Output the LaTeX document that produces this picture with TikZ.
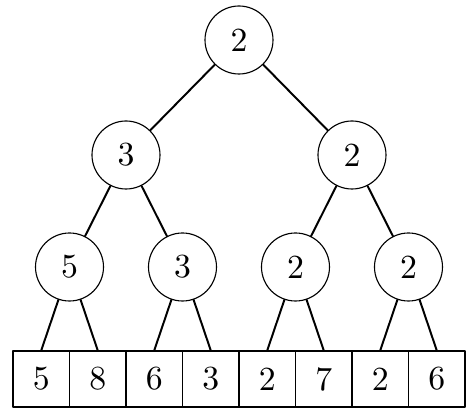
\documentclass[tikz,border=0pt]{standalone}
\usepackage{fontspec}
\newfontfamily\lmten{lmroman10-regular.otf}
\usetikzlibrary{positioning}

\begin{document}
\begin{tikzpicture}[x=1cm,y=1cm,line cap=round,line join=round,
    every node/.style={font=\lmten\fontsize{24}{30}\selectfont,inner sep=0pt},
    tnode/.style={circle,draw,line width=0.8pt,minimum size=1.7cm},
    leaf/.style={rectangle,draw,line width=0.8pt,minimum width=1.4125cm,minimum height=1.4cm},
    edge/.style={line width=1.4pt}]
    \useasboundingbox (0,0) rectangle (11.85,10.325);
    % leaves
    \foreach \idx/\val in {1/5,2/8,3/6,4/3,5/2,6/7,7/2,8/6} {
        \node[leaf] (b\idx) at ({0.325+1.4125*(\idx-0.5)},0.85) {\val};
    }
    % inner levels
    \foreach \idx/\x/\val in {1/1.7375/5,2/4.5625/3,3/7.3875/2,4/10.2125/2} {
        \node[tnode] (c\idx) at (\x,3.65) {\val};
    }
    \node[tnode] (m1) at (3.15,6.45) {3};
    \node[tnode] (m2) at (8.8,6.45) {2};
    \node[tnode] (r) at (5.975,9.325) {2};
    % edges
    \foreach \p/\a/\b in {c1/b1/b2,c2/b3/b4,c3/b5/b6,c4/b7/b8} {
        \draw[edge] (\p) -- (\a.north);
        \draw[edge] (\p) -- (\b.north);
    }
    \draw[edge] (m1) -- (c1);
    \draw[edge] (m1) -- (c2);
    \draw[edge] (m2) -- (c3);
    \draw[edge] (m2) -- (c4);
    \draw[edge] (r) -- (m1);
    \draw[edge] (r) -- (m2);
\end{tikzpicture}
\end{document}
